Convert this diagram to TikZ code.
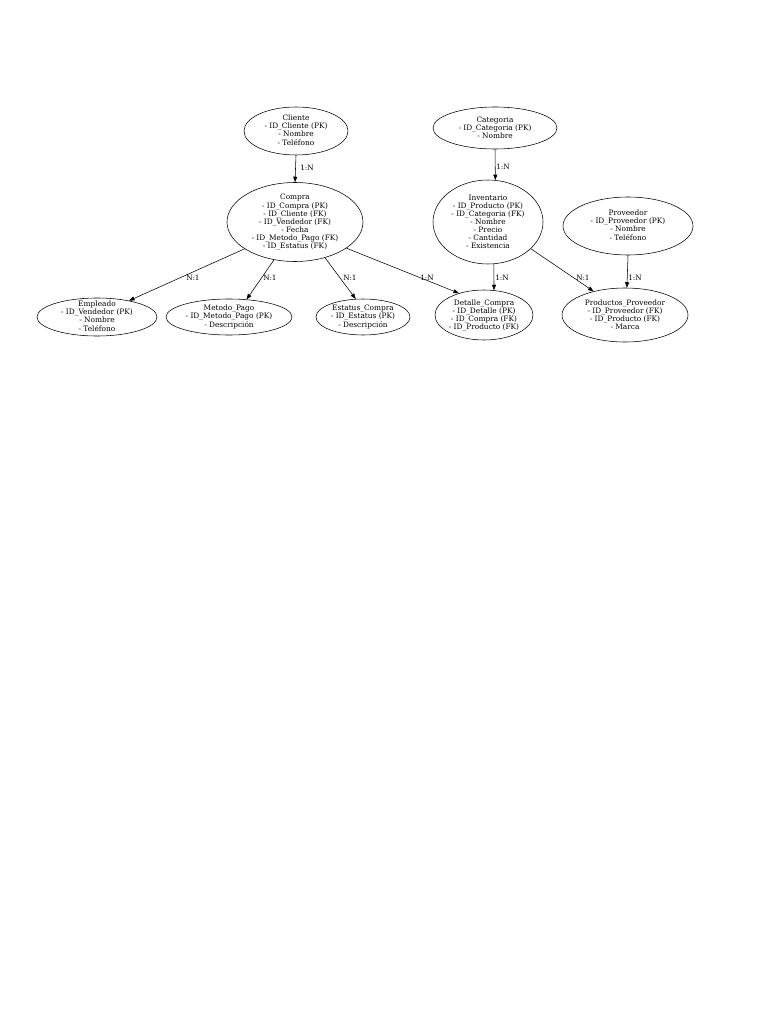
\documentclass[tikz,border=0pt]{standalone}
\usepackage{fontspec}
\setmainfont{DejaVu Serif}
\usetikzlibrary{shapes.geometric,arrows.meta}
\newcommand\entxt[1]{\smash{\makebox[0pt]{\raisebox{-2.2pt}{\begin{tabular}{@{}c@{}}#1\end{tabular}}}}}
\begin{document}
\begin{tikzpicture}[x=1pt,y=-1pt,
  ent/.style={draw, ellipse, inner sep=0pt, line width=0.55pt, font=\fontsize{7.4}{8}\selectfont},
  rel/.style={draw, line width=0.55pt, -{Triangle[length=5.5pt,width=4pt]}},
  lab/.style={font=\fontsize{7.3}{8}\selectfont, inner sep=0pt}]
\useasboundingbox[fill=white] (0,0) rectangle (768,1024);

\node[ent, minimum width=104pt, minimum height=48pt] (cliente) at (296,131)
  {\entxt{Cliente\\- ID\_Cliente (PK)\\- Nombre\\- Teléfono}};
\node[ent, minimum width=136pt, minimum height=79pt] (compra) at (295,222)
  {\entxt{Compra\\- ID\_Compra (PK)\\- ID\_Cliente (FK)\\- ID\_Vendedor (FK)\\- Fecha\\- ID\_Metodo\_Pago (FK)\\- ID\_Estatus (FK)}};
\node[ent, minimum width=120pt, minimum height=38pt] (empleado) at (97,317)
  {\entxt{Empleado\\- ID\_Vendedor (PK)\\- Nombre\\- Teléfono}};
\node[ent, minimum width=126pt, minimum height=36pt] (metodo) at (229,317)
  {\entxt{Metodo\_Pago\\- ID\_Metodo\_Pago (PK)\\- Descripción}};
\node[ent, minimum width=94pt, minimum height=36pt] (estatus) at (363,317)
  {\entxt{Estatus\_Compra\\- ID\_Estatus (PK)\\- Descripción}};
\node[ent, minimum width=124pt, minimum height=42pt] (categoria) at (495,128)
  {\entxt{Categoria\\- ID\_Categoria (PK)\\- Nombre}};
\node[ent, minimum width=110pt, minimum height=84pt] (inventario) at (488,222)
  {\entxt{Inventario\\- ID\_Producto (PK)\\- ID\_Categoria (FK)\\- Nombre\\- Precio\\- Cantidad\\- Existencia}};
\node[ent, minimum width=130pt, minimum height=58pt] (proveedor) at (628,226)
  {\entxt{Proveedor\\- ID\_Proveedor (PK)\\- Nombre\\- Teléfono}};
\node[ent, minimum width=98pt, minimum height=50pt] (detalle) at (484,315)
  {\entxt{Detalle\_Compra\\- ID\_Detalle (PK)\\- ID\_Compra (FK)\\- ID\_Producto (FK)}};
\node[ent, minimum width=126pt, minimum height=54pt] (pp) at (625,315)
  {\entxt{Productos\_Proveedor\\- ID\_Proveedor (FK)\\- ID\_Producto (FK)\\- Marca}};

\draw[rel] (cliente.south) -- (compra.north);
\draw[rel] (compra.-152) -- (empleado.27);
\draw[rel] (compra.-119) -- (metodo.45);
\draw[rel] (compra.-50) -- (estatus.112);
\draw[rel] (compra.-27) -- (detalle.139);
\draw[rel] (categoria.south) -- (inventario.80);
\draw[rel] (inventario.-82) -- (detalle.68);
\draw[rel] (inventario.-32) -- (pp.143);
\draw[rel] (proveedor.south) -- (pp.86);

\node[lab] (l1) at (307,168) {1:N};
\node[lab] (l2) at (193,278) {N:1};
\node[lab] (l3) at (270,278) {N:1};
\node[lab] (l4) at (350,278) {N:1};
\node[lab] (l5) at (427,278) {1:N};
\node[lab] (l6) at (503,167) {1:N};
\node[lab] (l7) at (502,278) {1:N};
\node[lab] (l8) at (583,278) {N:1};
\node[lab] (l9) at (635,278) {1:N};
\end{tikzpicture}
\end{document}
